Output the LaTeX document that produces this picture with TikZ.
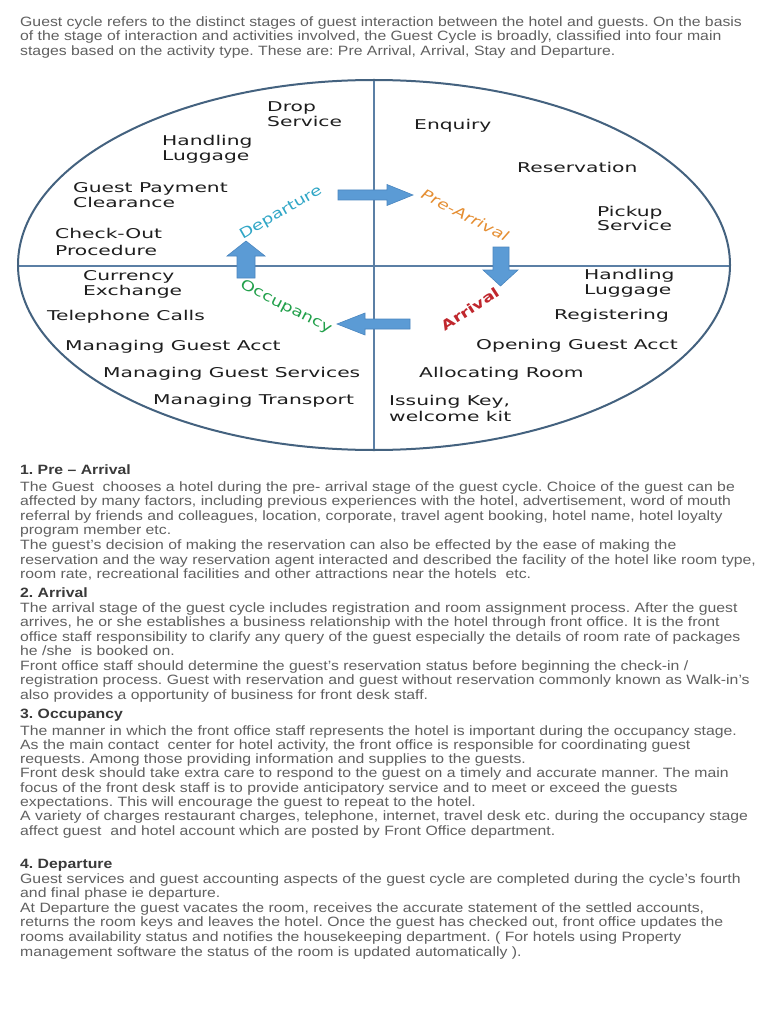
\documentclass[tikz,border=0pt]{standalone}
\usepackage{fontspec}
\setmainfont{Liberation Sans}
\newfontfamily\bodyf[FakeStretch=1.17]{Liberation Sans}
\newfontfamily\dgf[FakeStretch=1.5]{DejaVu Sans}
\newfontfamily\stf[FakeStretch=1.3]{DejaVu Sans}
\frenchspacing
\definecolor{bodytxt}{HTML}{606060}
\definecolor{headtxt}{HTML}{3A3A3A}
\definecolor{ellc}{HTML}{44627F}
\definecolor{linec}{HTML}{5B7FA5}
\definecolor{arrowc}{HTML}{5B9BD5}
\definecolor{arrowe}{HTML}{4A86BF}
\definecolor{depc}{HTML}{2FA6C6}
\definecolor{prec}{HTML}{E58E32}
\definecolor{arrc}{HTML}{C0272D}
\definecolor{occc}{HTML}{22A04B}
\definecolor{itemtxt}{HTML}{1E1E1E}
\tikzset{
  bodyline/.style={anchor=base west, inner sep=0pt, font=\bodyf\fontsize{13.5}{14}\selectfont, text=bodytxt},
  headline/.style={anchor=base west, inner sep=0pt, font=\bodyf\bfseries\fontsize{13.5}{14}\selectfont, text=headtxt},
  itemline/.style={anchor=base west, inner sep=0pt, font=\dgf\fontsize{13.5}{15}\selectfont, text=itemtxt},
  stagelbl/.style={inner sep=0pt, font=\stf\fontsize{14}{16}\selectfont},
  blockarrow/.style={fill=arrowc, draw=arrowe, line width=0.6pt},
  ellipseline/.style={draw=ellc, line width=2pt},
  axisline/.style={draw=linec, line width=1.4pt}
}
\begin{document}
\begin{tikzpicture}[x=1pt,y=-1pt]
\useasboundingbox (0,0) rectangle (768,1024);
\fill[white] (0,0) rectangle (768,1024);

% intro paragraph
\node[bodyline] (p1) at (20,26.5) {Guest cycle refers to the distinct stages of guest interaction between the hotel and guests. On the basis};
\node[bodyline] (p2) at (20,41) {of the stage of interaction and activities involved, the Guest Cycle is broadly, classified into four main};
\node[bodyline] (p3) at (20,55.5) {stages based on the activity type. These are: Pre Arrival, Arrival, Stay and Departure.};

% diagram frame
\coordinate (ctr) at (374,265);
\coordinate (vtop) at (374,80);
\coordinate (vbot) at (374,450);
\coordinate (hl) at (19,266);
\coordinate (hr) at (731,266);
\draw[axisline] (vtop) -- (vbot);
\draw[axisline] (hl) -- (hr);
\draw[ellipseline] (ctr) ellipse [x radius=356, y radius=185];

% block arrows
\fill[blockarrow] (338,190) -- (387,190) -- (387,184.5) -- (413,195) -- (387,205.5) -- (387,200) -- (338,200) -- cycle;
\fill[blockarrow] (493,247) -- (509,247) -- (509,270) -- (518,270) -- (500.5,286) -- (483,270) -- (493,270) -- cycle;
\fill[blockarrow] (410,319) -- (365,319) -- (365,313) -- (337,324) -- (365,335) -- (365,329) -- (410,329) -- cycle;
\fill[blockarrow] (237,278) -- (237,256) -- (227,256) -- (246,241) -- (265,256) -- (255,256) -- (255,278) -- cycle;

% stage labels
\node[stagelbl, text=depc, rotate=30] (dep) at (281,213) {Departure};
\node[stagelbl, text=prec, rotate=-27, font=\stf\itshape\fontsize{14}{16}\selectfont] (pre) at (465,215) {Pre-Arrival};
\node[stagelbl, text=arrc, rotate=33, font=\stf\bfseries\fontsize{13.5}{16}\selectfont] (arr) at (470,309) {Arrival};
\node[stagelbl, text=occc, rotate=-27] (occ) at (286,307) {Occupancy};

% departure activities
\node[itemline] (d1a) at (267,112) {Drop};
\node[itemline] (d1b) at (267,127) {Service};
\node[itemline] (d2a) at (162,146) {Handling};
\node[itemline] (d2b) at (162,161) {Luggage};
\node[itemline] (d3a) at (73,193) {Guest Payment};
\node[itemline] (d3b) at (73,208) {Clearance};
\node[itemline] (d4a) at (55,239) {Check-Out};
\node[itemline] (d4b) at (55,255) {Procedure};
% pre-arrival activities
\node[itemline] (r1) at (414,130) {Enquiry};
\node[itemline] (r2) at (517,173) {Reservation};
\node[itemline] (r3a) at (597,217) {Pickup};
\node[itemline] (r3b) at (597,231) {Service};
% occupancy activities
\node[itemline] (o1a) at (83,280) {Currency};
\node[itemline] (o1b) at (83,295) {Exchange};
\node[itemline] (o2) at (47,320) {Telephone Calls};
\node[itemline] (o3) at (65,350) {Managing Guest Acct};
\node[itemline] (o4) at (103,377) {Managing Guest Services};
\node[itemline] (o5) at (153,404) {Managing Transport};
% arrival activities
\node[itemline] (a1a) at (584,279) {Handling};
\node[itemline] (a1b) at (584,294) {Luggage};
\node[itemline] (a2) at (554,319) {Registering};
\node[itemline] (a3) at (476,349) {Opening Guest Acct};
\node[itemline] (a4) at (419,377) {Allocating Room};
\node[itemline] (a5a) at (389,405) {Issuing Key,};
\node[itemline] (a5b) at (389,421) {welcome kit};

% section 1
\node[headline] (h1) at (20,474.5) {1. Pre – Arrival};
\node[bodyline] (s1l1) at (20,491.5) {The Guest\ \ chooses a hotel during the pre- arrival stage of the guest cycle. Choice of the guest can be};
\node[bodyline] (s1l2) at (20,505.5) {affected by many factors, including previous experiences with the hotel, advertisement, word of mouth};
\node[bodyline] (s1l3) at (20,520.5) {referral by friends and colleagues, location, corporate, travel agent booking, hotel name, hotel loyalty};
\node[bodyline] (s1l4) at (20,534.5) {program member etc.};
\node[bodyline] (s1l5) at (20,549.5) {The guest’s decision of making the reservation can also be effected by the ease of making the};
\node[bodyline] (s1l6) at (20,564.5) {reservation and the way reservation agent interacted and described the facility of the hotel like room type,};
\node[bodyline] (s1l7) at (20,578.5) {room rate, recreational facilities and other attractions near the hotels\ \ etc.};

% section 2
\node[headline] (h2) at (20,597.5) {2. Arrival};
\node[bodyline] (s2l1) at (20,612.5) {The arrival stage of the guest cycle includes registration and room assignment process. After the guest};
\node[bodyline] (s2l2) at (20,626.5) {arrives, he or she establishes a business relationship with the hotel through front office. It is the front};
\node[bodyline] (s2l3) at (20,641.5) {office staff responsibility to clarify any query of the guest especially the details of room rate of packages};
\node[bodyline] (s2l4) at (20,655.5) {he /she\ \ is booked on.};
\node[bodyline] (s2l5) at (20,670.5) {Front office staff should determine the guest’s reservation status before beginning the check-in /};
\node[bodyline] (s2l6) at (20,684.5) {registration process. Guest with reservation and guest without reservation commonly known as Walk-in’s};
\node[bodyline] (s2l7) at (20,699.5) {also provides a opportunity of business for front desk staff.};

% section 3
\node[headline] (h3) at (20,718.5) {3. Occupancy};
\node[bodyline] (s3l1) at (20,735.5) {The manner in which the front office staff represents the hotel is important during the occupancy stage.};
\node[bodyline] (s3l2) at (20,749.5) {As the main contact\ \ center for hotel activity, the front office is responsible for coordinating guest};
\node[bodyline] (s3l3) at (20,763.5) {requests. Among those providing information and supplies to the guests.};
\node[bodyline] (s3l4) at (20,777.5) {Front desk should take extra care to respond to the guest on a timely and accurate manner. The main};
\node[bodyline] (s3l5) at (20,792.5) {focus of the front desk staff is to provide anticipatory service and to meet or exceed the guests};
\node[bodyline] (s3l6) at (20,806.5) {expectations. This will encourage the guest to repeat to the hotel.};
\node[bodyline] (s3l7) at (20,820.5) {A variety of charges restaurant charges, telephone, internet, travel desk etc. during the occupancy stage};
\node[bodyline] (s3l8) at (20,835.5) {affect guest\ \ and hotel account which are posted by Front Office department.};

% section 4
\node[headline] (h4) at (20,868.5) {4. Departure};
\node[bodyline] (s4l1) at (20,883.5) {Guest services and guest accounting aspects of the guest cycle are completed during the cycle’s fourth};
\node[bodyline] (s4l2) at (20,897.5) {and final phase ie departure.};
\node[bodyline] (s4l3) at (20,912.5) {At Departure the guest vacates the room, receives the accurate statement of the settled accounts,};
\node[bodyline] (s4l4) at (20,926.5) {returns the room keys and leaves the hotel. Once the guest has checked out, front office updates the};
\node[bodyline] (s4l5) at (20,941.5) {rooms availability status and notifies the housekeeping department. ( For hotels using Property};
\node[bodyline] (s4l6) at (20,956.5) {management software the status of the room is updated automatically ).};
\end{tikzpicture}
\end{document}
